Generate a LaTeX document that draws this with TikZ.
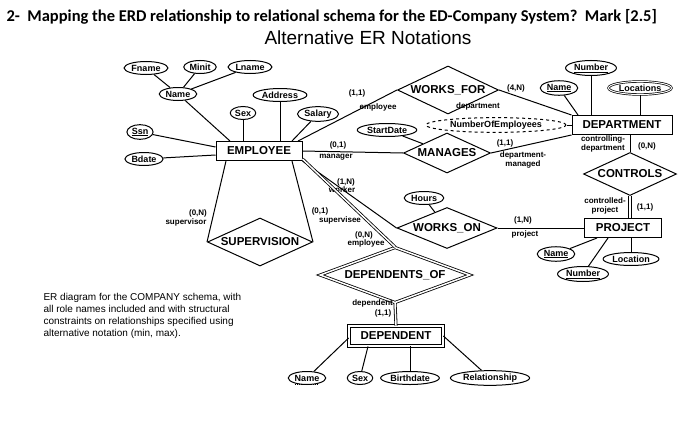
\documentclass[tikz,border=0pt]{standalone}
\usepackage{fontspec}
\setmainfont{Liberation Sans}
\newfontfamily\titlefont{Carlito}
\usetikzlibrary{shapes,positioning}
\begin{document}
\begin{tikzpicture}[x = 1pt, y = -1pt, style={font=\bfseries\fontsize{9}{10}\selectfont}]
\tikzset{
  ent/.style={draw, line width=1pt, rectangle, minimum height=19pt, inner sep=2pt, font=\bfseries\fontsize{11.5}{12}\selectfont},
  rel/.style={draw, line width=1pt, diamond, aspect=2.2, inner sep=0pt, font=\bfseries\fontsize{11.5}{12}\selectfont},
  attr/.style={draw, line width=1pt, ellipse, inner sep=1pt, minimum height=13pt},
  role/.style={font=\bfseries\fontsize{8}{8.5}\selectfont, align=center, inner sep=1pt},
  ln/.style={line width=1pt},
  dbl/.style={double, double distance=1.5pt, line width=0.8pt}
}
\useasboundingbox (0,0) rectangle (700,428);
% Title
\node[anchor=west, font=\titlefont\bfseries\fontsize{16.5}{18}\selectfont] (title) at (3,17) {2-\ \ Mapping the ERD relationship to relational schema for the ED-Company System?\ \ Mark [2.5]};
\node[font=\mdseries\fontsize{19}{21}\selectfont] (subtitle) at (368,38) {Alternative ER Notations};
% Employee and attributes
\node[ent, minimum width=86pt] (emp) at (259,151) {EMPLOYEE};
\node[attr] (fname) at (146,68) {Fname};
\node[attr] (minit) at (200,67) {Minit};
\node[attr] (lname) at (250,67) {Lname};
\node[attr] (name) at (178,94) {Name};
\node[attr] (addr) at (280,95) {Address};
\node[attr] (sex) at (243,113) {Sex};
\node[attr] (sal) at (318,114) {Salary};
\node[attr] (ssn) at (140,132) {\underline{Ssn}};
\node[attr] (bdate) at (144,159) {Bdate};
\draw[ln] (fname) -- (name);
\draw[ln] (minit) -- (name);
\draw[ln] (lname) -- (name);
\draw[ln] (name) -- (emp.north west -| 230,0);
\draw[ln] (sex) -- (sex |- emp.north);
\draw[ln] (addr) -- (addr |- emp.north);
\draw[ln] (sal) -- (emp.north east -| 292,0);
\draw[ln] (ssn) -- (emp.west |- 0,147);
\draw[ln] (bdate) -- (emp.west |- 0,155);
% Department
\node[ent, minimum width=100pt] (dept) at (622,125) {DEPARTMENT};
\node[attr] (dnum) at (591,68) {\underline{Number}};
\node[attr] (dname) at (559,88) {\underline{Name}};
\node[attr, double, double distance=1pt, line width=0.7pt] (loc) at (640,88) {Locations};
\node[attr, dashed, minimum width=140pt] (noe) at (496,125) {NumberOfEmployees};
\draw[ln] (dnum) -- (dnum |- dept.north);
\draw[ln] (dname) -- (dept.north west -| 578,0);
\draw[ln] (loc) -- (loc |- dept.north);
\draw[ln] (noe) -- (dept);
% Works for
\node[rel, minimum width=101pt, minimum height=48pt] (wf) at (448,90) {WORKS\_FOR};
\draw[ln] (emp.north east -| 298,0) -- (wf.west);
\draw[ln] (wf.east) -- (dept.north west);
\node[role] (wf1) at (357,93) {(1,1)};
\node[role] (wf2) at (378,107) {employee};
\node[role] (wf3) at (516,88) {(4,N)};
\node[role] (wf4) at (478,106) {department};
% Manages
\node[rel, minimum width=87pt, minimum height=40pt] (man) at (447,153) {MANAGES};
\node[attr] (sdate) at (387,130) {StartDate};
\draw[ln] (emp.east) -- (man.west);
\draw[ln] (man.east) -- (dept.south west);
\draw[ln] (sdate) -- (man);
\node[role] (m1) at (338,145) {(0,1)};
\node[role] (m2) at (336,157) {manager};
\node[role] (m3) at (505,143) {(1,1)};
\node[role] (m4) at (523,160) {department-\\managed};
% Controls
\node[rel, minimum width=93pt, minimum height=43pt] (con) at (630,174) {CONTROLS};
\node[ent, minimum width=77pt] (proj) at (623,228) {PROJECT};
\draw[ln] (dept.south -| con.north) -- (con.north);
\draw[dbl] (con.south) -- (con.south |- proj.north);
\node[role] (c1) at (603,144) {controlling-\\department};
\node[role] (c2) at (647,146) {(0,N)};
\node[role] (c3) at (605,206) {controlled-\\project};
\node[role] (c4) at (645,207) {(1,1)};
\node[attr] (pname) at (556,254) {\underline{Name}};
\node[attr] (ploc) at (631,259) {Location};
\node[attr] (pnum) at (583,274) {\underline{Number}};
\draw[ln] (pname) -- (proj.south west -| 597,0);
\draw[ln] (ploc) -- (ploc |- proj.south);
\draw[ln] (pnum) -- (proj.south west -| 608,0);
% Works on
\node[rel, minimum width=100pt, minimum height=41pt] (won) at (447,228) {WORKS\_ON};
\node[attr] (hours) at (424,198) {Hours};
\draw[ln] (hours) -- (won);
\draw[ln] (emp.south east) -- (won.west);
\draw[ln] (won.east) -- (proj.west);
\node[role] (w1) at (346,182) {(1,N)};
\node[role] (w2) at (342,190) {worker};
\node[role] (w3) at (523,220) {(1,N)};
\node[role] (w4) at (525,234) {project};
% Supervision
\node[rel, minimum width=105pt, minimum height=48pt] (sup) at (260,242) {SUPERVISION};
\draw[ln] (emp.south -| 226,0) -- (sup.west);
\draw[ln] (emp.south -| 292,0) -- (sup.east);
\node[role] (s1) at (198,213) {(0,N)};
\node[role] (s2) at (186,222) {supervisor};
\node[role] (s3) at (320,211) {(0,1)};
\node[role] (s4) at (340,220) {supervisee};
% Dependents of
\node[rel, double, double distance=1.5pt, line width=0.8pt, minimum width=150pt, minimum height=52pt] (dof) at (395,275) {DEPENDENTS\_OF};
\draw[dbl] (emp.south east |- 0,159) -- (dof.north);
\node[role] (d1) at (364,235) {(0,N)};
\node[role] (d2) at (366,243) {employee};
\node[ent, double, double distance=1.5pt, line width=0.8pt, minimum width=94pt, minimum height=20pt] (dep) at (396,336) {DEPENDENT};
\draw[dbl] (dof.south) -- (dep.north);
\node[role, anchor=east] (d3) at (394,303) {dependent};
\node[role] (d4) at (383,313) {(1,1)};
\node[attr] (depn) at (307,378) {Name};
\draw[densely dotted, line width=1pt] (295,384) -- (319,384);
\node[attr] (deps) at (360,378) {Sex};
\node[attr] (depb) at (410,378) {Birthdate};
\node[attr] (depr) at (490,378) {Relationship};
\draw[ln] (depn) -- (dep.south west |- 0,338);
\draw[ln] (deps) -- (dep.south -| 368,0);
\draw[ln] (depb) -- (depb |- dep.south);
\draw[ln] (depr) -- (dep.east);
% Caption
\node[anchor=north west, align=left, font=\mdseries\fontsize{10}{12}\selectfont] (cap) at (40,290) {ER diagram for the COMPANY schema, with\\all role names included and with structural\\constraints on relationships specified using\\alternative notation (min, max).};
\end{tikzpicture}
\end{document}
